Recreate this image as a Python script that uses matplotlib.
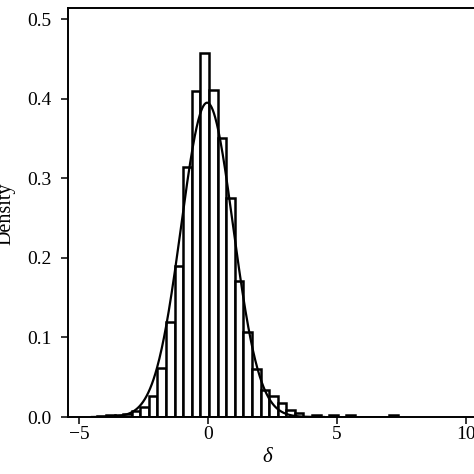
import numpy as np
import matplotlib
matplotlib.use("Agg")
import matplotlib.pyplot as plt

plt.rcParams['font.family'] = ['Liberation Serif', 'DejaVu Serif']
plt.rcParams['font.size'] = 14

# histogram: left edge of first bin, bin width, heights (density)
bin_start = -4.29
bin_width = 1.0 / 3.0
heights = [0.001, 0.002, 0.002, 0.004, 0.007, 0.013, 0.027, 0.062, 0.120, 0.190,
           0.314, 0.410, 0.457, 0.411, 0.351, 0.275, 0.171, 0.107, 0.060, 0.034,
           0.027, 0.0175, 0.009, 0.005, 0.0, 0.002, 0.0, 0.002, 0.0, 0.002,
           0.0, 0.0, 0.0, 0.0, 0.002]

# fitted normal curve
mu = -0.03
sigma = 1.01

xticks = [-5, 0, 5, 10]
yticks = [0.0, 0.1, 0.2, 0.3, 0.4, 0.5]

fig = plt.figure(figsize=(4.74, 4.74), dpi=100)
W = 474.0
# axes box in pixels: left 68, right 481 (beyond the crop), top 8, bottom 417
ax = fig.add_axes([68 / W, 1 - 417 / W, (481 - 68) / W, (417 - 8) / W])

lefts = bin_start + bin_width * np.arange(len(heights))
ax.bar(lefts, heights, width=bin_width, align='edge', color='white',
       edgecolor='black', linewidth=1.8)

xs = np.linspace(-4.5, 4.5, 400)
ys = np.exp(-0.5 * ((xs - mu) / sigma) ** 2) / (sigma * np.sqrt(2 * np.pi))
ax.plot(xs, ys, color='black', linewidth=1.6)

ax.set_xlim(-5.43, 10.6)
ax.set_ylim(0, 0.514)
ax.set_xticks(xticks)
ax.set_xticklabels(['\u22125', '0', '5', '10'])
ax.set_yticks(yticks)
ax.set_yticklabels(['%.1f' % v for v in yticks])
ax.tick_params(axis='both', direction='out', length=4.75, width=1.1, labelsize=14)
ax.tick_params(axis='x', pad=1.5)
ax.tick_params(axis='y', pad=7)
for s in ax.spines.values():
    s.set_linewidth(1.4)

fig.text(6 / W, 1 - 214 / W, 'Density', rotation=90, ha='center', va='center', fontsize=14.5)
fig.text(267 / W, 1 - 457 / W, '\u03b4', style='italic', ha='center', va='center', fontsize=15)

fig.savefig('out.png', dpi=100)
